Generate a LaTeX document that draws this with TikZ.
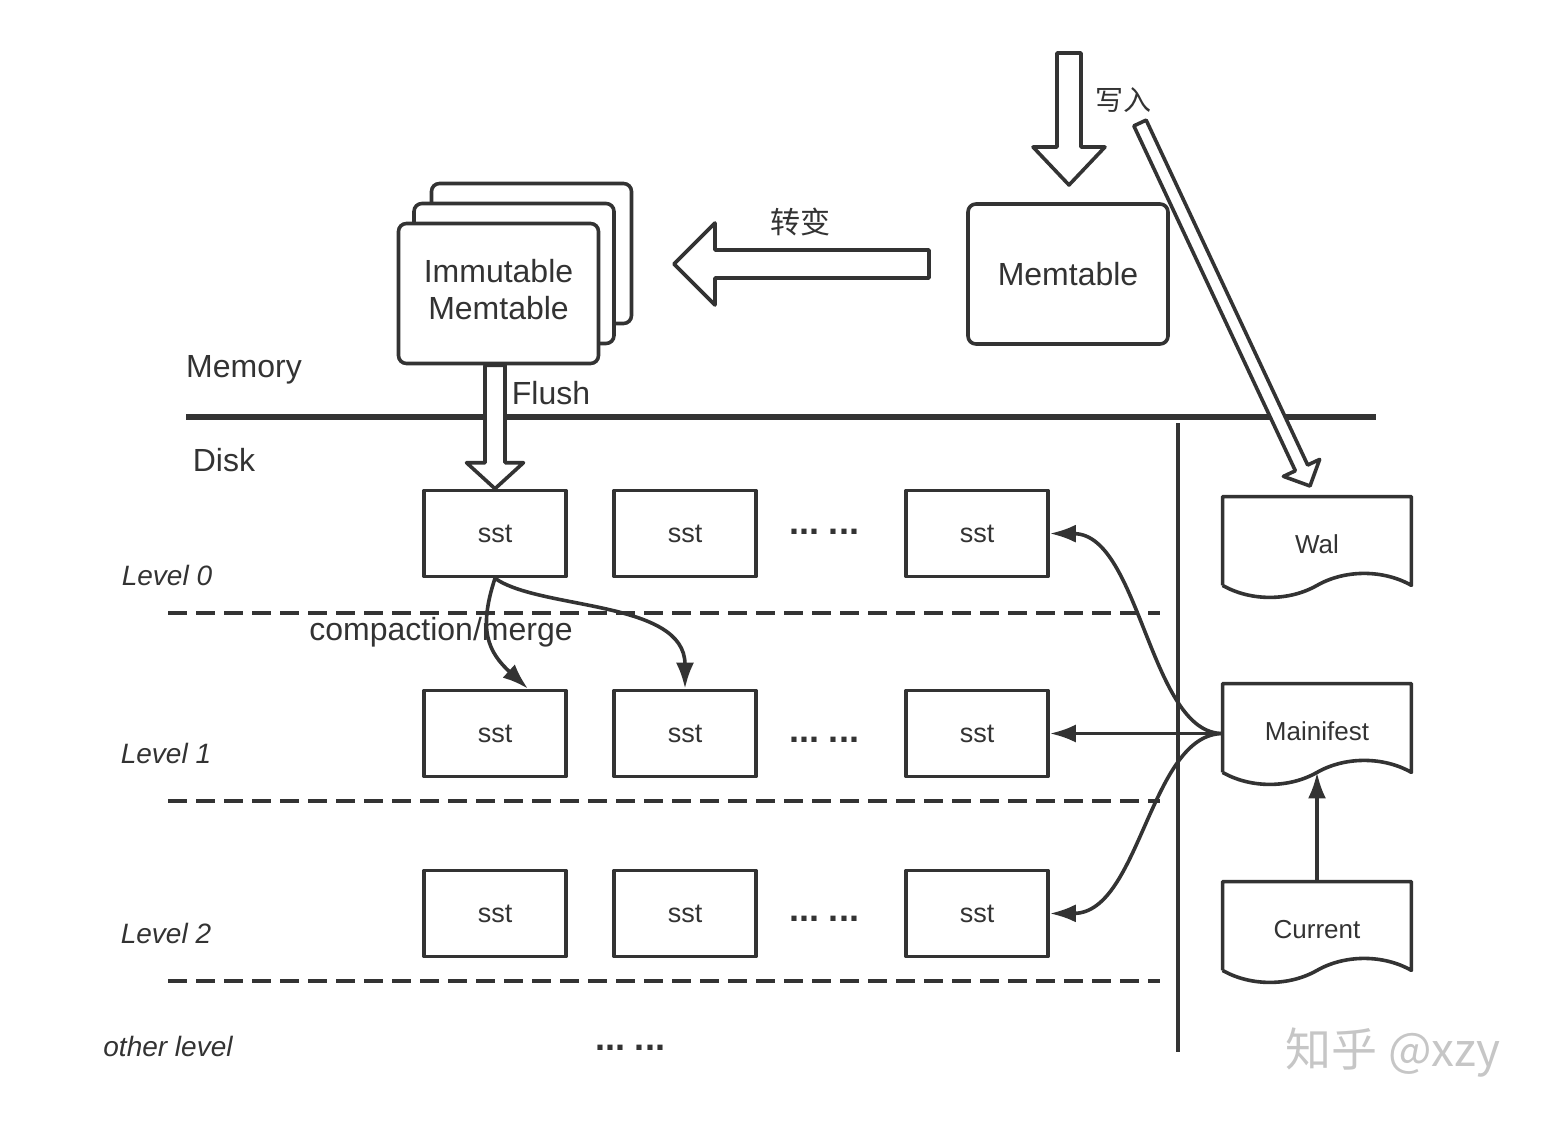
\documentclass[tikz,border=0pt]{standalone}
\usepackage{fontspec}
\setmainfont{Liberation Sans}
\newfontfamily\cjk{Noto Sans CJK SC}
\usetikzlibrary{calc,arrows.meta}
\definecolor{ink}{HTML}{333333}

% hollow block arrow: start, tip, shaft half width, head half width, head length
\newcommand{\fatarrow}[5]{%
	\coordinate (fa-s) at #1;
	\coordinate (fa-e) at #2;
	\coordinate (fa-h) at ($(fa-e)!#5!(fa-s)$);
	\draw[fat]
	($(fa-s)!#3!90:(fa-e)$) -- ($(fa-h)!#3!-90:(fa-s)$) -- ($(fa-h)!#4!-90:(fa-s)$)
	-- (fa-e) -- ($(fa-h)!#4!90:(fa-s)$) -- ($(fa-h)!#3!90:(fa-s)$)
	-- ($(fa-s)!#3!-90:(fa-e)$) -- cycle;}

% outline of a document node with a wavy bottom
\newcommand{\docline}[1]{%
	\draw[ink,line width=1.8pt]
	(#1.south west) -- (#1.north west) -- (#1.north east) -- (#1.south east)
	.. controls ($(#1.south east)+(-28,-16)$) and ($(#1.south)+(28,-16)$) .. (#1.south)
	.. controls ($(#1.south)+(-28,16)$) and ($(#1.south west)+(28,16)$) .. (#1.south west);}

\begin{document}
\begin{tikzpicture}[x=0.5pt,y=-0.5pt,line join=round,
	every node/.style={text=ink},
	memt/.style={draw=ink,line width=1.8pt,fill=white,rounded corners=4pt,
		minimum width=100pt,minimum height=70pt,inner sep=0pt,align=center,
		font=\fontsize{16}{18.5}\selectfont},
	sst/.style={draw=ink,line width=1.8pt,minimum width=71pt,minimum height=43pt,
		inner sep=0pt,font=\fontsize{13.5}{15}\selectfont},
	doc/.style={minimum width=94pt,minimum height=44pt,inner sep=0pt,
		text height=12pt,text depth=0pt,font=\fontsize{13}{15}\selectfont},
	lvl/.style={font=\fontsize{14}{16}\selectfont\itshape},
	lbl/.style={font=\fontsize{16}{19}\selectfont},
	dots/.style={font=\fontsize{18}{20}\selectfont\bfseries},
	fat/.style={draw=ink,line width=1.8pt,fill=white},
	link/.style={draw=ink,line width=1.8pt,-{Latex[length=13pt,width=9pt]}},
	lev/.style={draw=ink,line width=2pt,dash pattern=on 9.5pt off 4.5pt}]
	\useasboundingbox (0,0) rectangle (1542,1124);

	% memory part
	\node[memt] (mem) at (1068,274) {Memtable};
	\node[memt] (imm3) at (531.5,253.5) {};
	\node[memt] (imm2) at (514,273.5) {};
	\node[memt,text depth=4pt] (imm1) at (498.5,293.5) {Immutable\\Memtable};
	\node[font=\cjk\fontsize{14}{16}\selectfont] (write) at (1123,100) {写入};
	\node[font=\cjk\fontsize{15}{17}\selectfont] (turn) at (800,222) {转变};
	\node[lbl] (memory) at (244,370) {Memory};
	\node[lbl] (disk) at (224,460) {Disk};
	\node[lbl] (flush) at (551,393) {Flush};

	\draw[ink,line width=2.7pt]
	(186,417) -- (1376,417);
	\draw[ink,line width=1.6pt]
	(1178,423) -- (1178,1052);

	% levels
	\draw[lev] (168,613) -- (1160,613);
	\draw[lev] (168,801) -- (1160,801);
	\draw[lev] (168,981) -- (1160,981);
	\node[lvl] (lv0) at (167,575) {Level 0};
	\node[lvl] (lv1) at (166,753) {Level 1};
	\node[lvl] (lv2) at (166,933) {Level 2};
	\node[lvl] (lvn) at (168,1046) {other level};

	\node[sst] (s00) at (495,533.5) {sst};
	\node[sst] (s01) at (685,533.5) {sst};
	\node[sst] (s02) at (977,533.5) {sst};
	\node[sst] (s10) at (495,733.5) {sst};
	\node[sst] (s11) at (685,733.5) {sst};
	\node[sst] (s12) at (977,733.5) {sst};
	\node[sst] (s20) at (495,913.5) {sst};
	\node[sst] (s21) at (685,913.5) {sst};
	\node[sst] (s22) at (977,913.5) {sst};
	\node[dots] (d0) at (824,532) {...~...};
	\node[dots] (d1) at (824,740) {...~...};
	\node[dots] (d2) at (824,919) {...~...};
	\node[dots] (dn) at (630,1048) {...~...};

	% files
	\node[doc] (wal) at (1317,541) {Wal};
	\node[doc] (mani) at (1317,728) {Mainifest};
	\node[doc] (cur) at (1317,926) {Current};
	\docline{wal}
	\docline{mani}
	\docline{cur}
	\coordinate (mout) at (mani.west |- s12.east);

	% block arrows
	\fatarrow{(1069,53)}{(1069,185)}{6pt}{18pt}{19pt}
	\fatarrow{(929,264)}{(674,264)}{7pt}{20.5pt}{20.5pt}
	\fatarrow{(s00.north |- imm1.south)}{(s00.north)}{5pt}{14.25pt}{13pt}
	\fatarrow{(1140,123)}{(1310,486)}{3.4pt}{10pt}{10pt}

	% compaction
	\draw[link]
	(s00.south) .. controls (478,630) and (488,652) .. ($(s10.north)+(33,0)$);
	\draw[link]
	(s00.south) .. controls (540,610) and (685,600) .. (s11.north);
	\node[lbl] (comp) at (441,632) {compaction/merge};

	% manifest
	\draw[link]
	(mout) .. controls (1150,734) and (1140,534) .. (s02.east);
	\draw[link]
	(mout) -- (s12.east);
	\draw[link]
	(mout) .. controls (1150,734) and (1140,913) .. (s22.east);
	\draw[link]
	(cur.north) -- (mani.south);

	\node[text=gray!45,font=\cjk\fontsize{23}{26}\selectfont] (mark) at (1393,1053) {知乎 @xzy};
\end{tikzpicture}
\end{document}
